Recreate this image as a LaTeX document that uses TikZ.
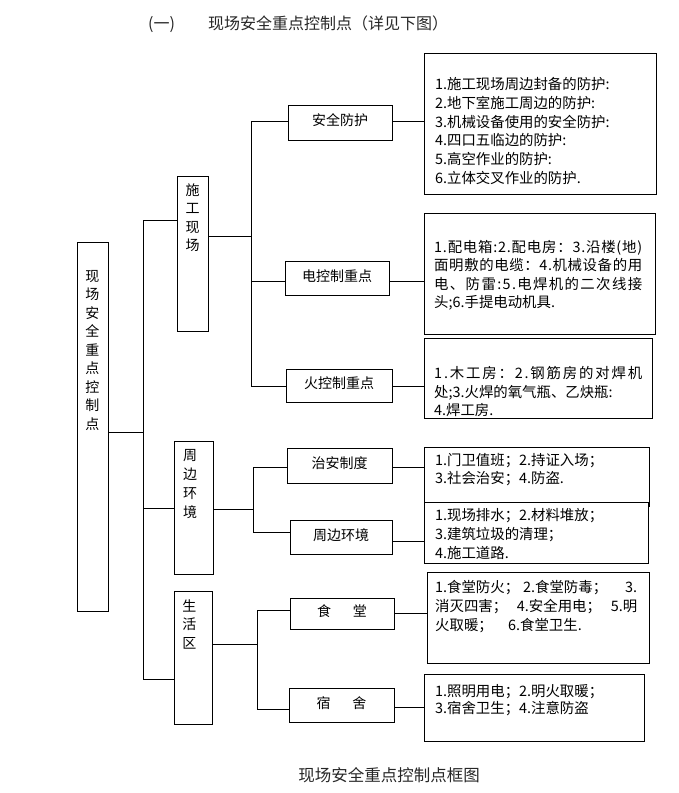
\documentclass[tikz,border=0pt]{standalone}
\usepackage{fontspec}
\setmainfont{Noto Sans CJK SC}
\def\sprd#1{\ifx#1\relax\else#1\hfil\expandafter\sprd\fi}
\newcommand\Lh[1]{\hbox{#1}}
\newcommand\Ls[1]{\hbox to 208pt{\sprd#1\relax\unskip}}
\begin{document}
\begin{tikzpicture}[x=1pt,y=-1pt,
  box/.style={draw, fill=white, line width=1pt, inner sep=0pt, outer sep=0pt,
    font=\fontsize{14}{17}\selectfont, text height=11.5pt, text depth=4.8pt},
  vlbl/.style={inner sep=0pt, anchor=base, font=\fontsize{14}{18.5}\selectfont},
  txt/.style={inner sep=0pt, anchor=base west, font=\fontsize{14.4}{18.5}\selectfont},
  conn/.style={line width=1pt},
  ttl/.style={inner sep=0pt, anchor=base west, font=\fontsize{16}{18}\selectfont, text=black!85}]
\path[use as bounding box] (0,0) rectangle (678,793);

% title and caption
\node[ttl] (title) at (148,29) {(一)\hspace{33pt}现场安全重点控制点（详见下图）};
\node[ttl, anchor=base, font=\fontsize{16.5}{18}\selectfont] (cap) at (389,781.3) {现场安全重点控制点框图};

% left boxes
\node[box, minimum width=31pt, minimum height=369pt] (root) at (92.5,426.5) {};
\node[box, minimum width=31pt, minimum height=155pt] (sg) at (192.5,253.5) {};
\node[box, minimum width=39pt, minimum height=133pt] (zb) at (193.5,507.5) {};
\node[box, minimum width=38pt, minimum height=133pt] (sh) at (193,657.5) {};

\node[vlbl] (rootl) at (92.3,281.3) {\vtop{\Lh{现}\Lh{场}\Lh{安}\Lh{全}\Lh{重}\Lh{点}\Lh{控}\Lh{制}\Lh{点}}};
\node[vlbl] (sgl) at (192.7,195.3) {\vtop{\Lh{施}\Lh{工}\Lh{现}\Lh{场}}};
\node[vlbl] (zbl) at (190,460.3) {\vtop{\baselineskip=18.9pt\Lh{周}\Lh{边}\Lh{环}\Lh{境}}};
\node[vlbl] (shl) at (189.3,611) {\vtop{\baselineskip=18.8pt\Lh{生}\Lh{活}\Lh{区}}};

% middle boxes
\node[box, minimum width=104pt, minimum height=35pt] (aq) at (340,122.5) {安全防护};
\node[box, minimum width=104pt, minimum height=34pt] (dk) at (337,278) {电控制重点};
\node[box, minimum width=106pt, minimum height=33pt] (hk) at (339,385.5) {火控制重点};
\node[box, minimum width=105pt, minimum height=35pt] (za) at (339.5,465.5) {治安制度};
\node[box, minimum width=102pt, minimum height=34pt] (zh) at (341,537) {周边环境};
\node[box, minimum width=104pt, minimum height=31pt] (st) at (342,613.5) {食\hspace{22pt}堂};
\node[box, minimum width=105pt, minimum height=34pt] (ss) at (341.5,705) {宿\hspace{22pt}舍};

% right text boxes
\node[box, minimum width=232pt, minimum height=141pt] (b1) at (540,123.5) {};
\node[box, minimum width=231pt, minimum height=121pt] (b2) at (539.5,273.5) {};
\node[box, minimum width=228pt, minimum height=80pt] (b3) at (538,378) {};
\node[box, minimum width=225pt, minimum height=59pt] (b4) at (536.5,476.5) {};
\node[box, minimum width=224pt, minimum height=61pt] (b5) at (536,532.5) {};
\node[box, minimum width=222pt, minimum height=91pt] (b6) at (538,617.5) {};
\node[box, minimum width=220pt, minimum height=67pt] (b7) at (534,707.5) {};

\node[txt] (t1) at (435,89.8) {\vtop{\baselineskip=18.7pt
  \Lh{1.施工现场周边封备的防护:}\Lh{2.地下室施工周边的防护:}\Lh{3.机械设备使用的安全防护:}
  \Lh{4.四口五临边的防护:}\Lh{5.高空作业的防护:}\Lh{6.立体交叉作业的防护.}}};
\node[txt] (t2) at (434,252.2) {\vtop{\baselineskip=18.5pt
  \Ls{1.配电箱:2.配电房：3.沿楼(地)}\Ls{面明敷的电缆：4.机械设备的用}
  \Ls{电、防雷:5.电焊机的二次线接}\Lh{头;6.手提电动机具.}}};
\node[txt] (t3) at (434,378.8) {\vtop{\baselineskip=18.5pt
  \Ls{1.木工房：2.钢筋房的对焊机}\Lh{处;3.火焊的氧气瓶、乙炔瓶:}\Lh{4.焊工房.}}};
\node[txt] (t4) at (435,465.5) {\vtop{\baselineskip=18.3pt
  \Lh{1.门卫值班；2.持证入场；}\Lh{3.社会治安；4.防盗.}}};
\begin{scope}
  \clip ([xshift=0.5pt,yshift=0.5pt]b5.south west) rectangle ([xshift=-0.5pt,yshift=-0.5pt]b5.north east);
  \node[txt] (t5) at (435,520.5) {\vtop{\baselineskip=18.8pt
    \Lh{1.现场排水；2.材料堆放；}\Lh{3.建筑垃圾的清理；}\Lh{4.施工道路.}}};
\end{scope}
\node[txt] (t6) at (435,592.2) {\vtop{\baselineskip=19.2pt
  \hbox to 202pt{1.食堂防火；\hspace{4pt}2.食堂防毒；\hfill 3.}
  \hbox to 202pt{消灭四害；\hfil 4.安全用电；\hfil 5.明}
  \Lh{\hbox to 73pt{火取暖；\hfil}6.食堂卫生.}}};
\node[txt] (t7) at (435,696.2) {\vtop{\baselineskip=17.6pt
  \Lh{1.照明用电；2.明火取暖；}\Lh{3.宿舍卫生；4.注意防盗}}};

% trunk
\coordinate (T0) at (143,432.7);
\coordinate (Ttop) at (143,220);
\coordinate (Tmid) at (143,508.3);
\coordinate (Tbot) at (143,679.3);
\draw[conn] (root.east |- T0) -- (T0);
\draw[conn] (Ttop) -- (Tbot);
\draw[conn] (Ttop) -- (Ttop -| sg.west);
\draw[conn] (Tmid) -- (Tmid -| zb.west);
\draw[conn] (Tbot) -- (Tbot -| sh.west);

% group A
\coordinate (A0) at (251.7,236);
\coordinate (Atop) at (251.7,121);
\coordinate (A2) at (251.7,281);
\coordinate (Abot) at (251.7,386.7);
\draw[conn] (sg.east |- A0) -- (A0);
\draw[conn] (Atop) -- (Abot);
\draw[conn] (Atop) -- (Atop -| aq.west);
\draw[conn] (A2) -- (A2 -| dk.west);
\draw[conn] (Abot) -- (Abot -| hk.west);
\draw[conn] (aq.east |- Atop) -- (Atop -| b1.west);
\draw[conn] (dk.east |- A2) -- (A2 -| b2.west);
\draw[conn] (hk.east |- Abot) -- (Abot -| b3.west);

% group B
\coordinate (B0) at (253.3,509.3);
\coordinate (Btop) at (253.3,467.3);
\coordinate (Bbot) at (253.3,532);
\coordinate (B5) at (253.3,541);
\draw[conn] (zb.east |- B0) -- (B0);
\draw[conn] (Btop) -- (Bbot);
\draw[conn] (Btop) -- (Btop -| za.west);
\draw[conn] (Bbot) -- (Bbot -| zh.west);
\draw[conn] (za.east |- Btop) -- (Btop -| b4.west);
\draw[conn] (zh.east |- B5) -- (B5 -| b5.west);

% group C
\coordinate (C0) at (257.3,644.3);
\coordinate (Ctop) at (257.3,610.3);
\coordinate (Cbot) at (257.3,709);
\coordinate (C7) at (257.3,707);
\draw[conn] (sh.east |- C0) -- (C0);
\draw[conn] (Ctop) -- (Cbot);
\draw[conn] (Ctop) -- (Ctop -| st.west);
\draw[conn] (Cbot) -- (Cbot -| ss.west);
\draw[conn] (st.east) -- (st.east -| b6.west);
\draw[conn] (ss.east |- C7) -- (C7 -| b7.west);
\end{tikzpicture}
\end{document}
